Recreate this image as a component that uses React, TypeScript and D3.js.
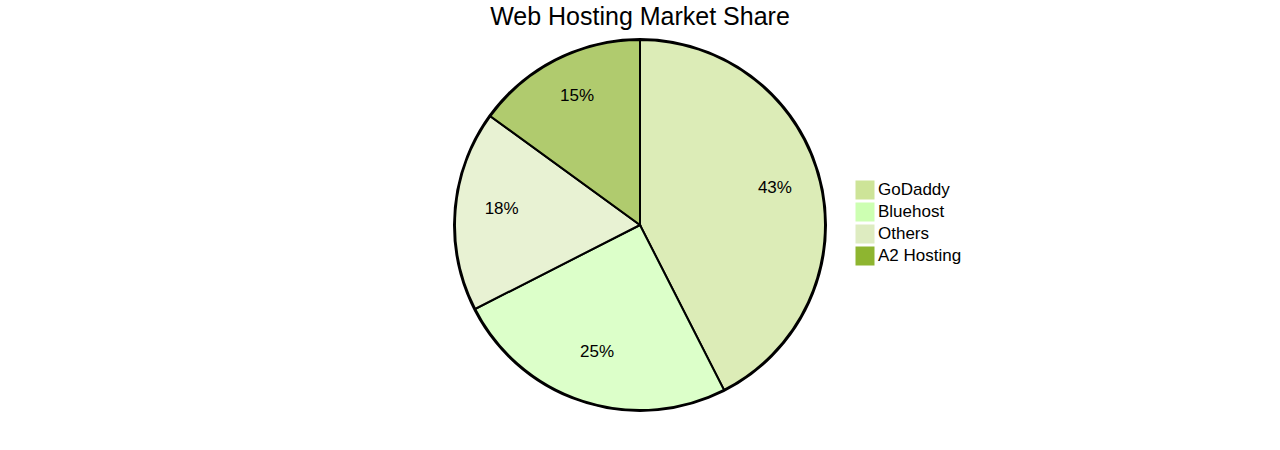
import { useEffect, useRef } from "react";
import * as d3 from "d3";

const labels = ["GoDaddy", "Bluehost", "Others", "A2 Hosting"];
const values = [42.5, 25, 17.5, 15];
const colors = ["#cde498", "#cdffb2", "#deecc1", "#8eb530"];
const title = "Web Hosting Market Share";

const PieChart = () => {
  const chartRef = useRef(null);

  useEffect(() => {
    document.body.style.margin = "0";
    if (!chartRef.current) return;
    const svg = d3.select(chartRef.current);
    svg.selectAll("*").remove();

    const width = 1280;
    const height = 450;
    const margin = 40;
    const radius = Math.min(width, height) / 2 - margin;
    const font = "'Liberation Sans', Arial, sans-serif";

    svg.attr("viewBox", [0, 0, width, height] as any);

    const data = labels.map((label, i) => ({ label, value: values[i] }));
    const total = d3.sum(values);

    const color = d3.scaleOrdinal<string>().domain(labels).range(colors);

    const g = svg
      .append("g")
      .attr("transform", `translate(${width / 2},${height / 2})`);

    const pie = d3
      .pie<any>()
      .value((d) => d.value)
      .sort(null);
    const arcs = pie(data);

    const arc = d3.arc<any>().innerRadius(0).outerRadius(radius);
    const labelArc = d3
      .arc<any>()
      .innerRadius(radius * 0.75)
      .outerRadius(radius * 0.75);

    g.append("circle")
      .attr("r", radius + 1)
      .attr("fill", "none")
      .attr("stroke", "black")
      .attr("stroke-width", 2);

    g.selectAll("path.slice")
      .data(arcs)
      .join("path")
      .attr("class", "slice")
      .attr("d", arc)
      .attr("fill", (d) => color(d.data.label))
      .attr("fill-opacity", 0.7)
      .attr("stroke", "black")
      .attr("stroke-width", 2);

    g.selectAll("text.pct")
      .data(arcs)
      .join("text")
      .attr("class", "pct")
      .attr("transform", (d) => `translate(${labelArc.centroid(d)})`)
      .attr("text-anchor", "middle")
      .attr("font-family", font)
      .attr("font-size", 17)
      .text((d) => `${((d.data.value / total) * 100).toFixed(0)}%`);

    svg
      .append("text")
      .attr("x", width / 2)
      .attr("y", 25)
      .attr("text-anchor", "middle")
      .attr("font-family", font)
      .attr("font-size", 25)
      .text(title);

    const legendSize = 18;
    const legendSpacing = 4;
    const step = legendSize + legendSpacing;
    const offset = (step * labels.length) / 2;

    const legend = g
      .selectAll("g.legend")
      .data(labels)
      .join("g")
      .attr("class", "legend")
      .attr("transform", (_, i) => `translate(${12 * legendSize},${i * step - offset})`);

    legend
      .append("rect")
      .attr("width", legendSize)
      .attr("height", legendSize)
      .attr("fill", (d) => color(d))
      .attr("stroke", (d) => color(d));

    legend
      .append("text")
      .attr("x", legendSize + legendSpacing)
      .attr("y", legendSize - legendSpacing)
      .attr("font-family", font)
      .attr("font-size", 17)
      .text((d) => d);
  }, []);

  return <svg ref={chartRef} width={1280} height={450} style={{ display: "block" }}></svg>;
};

export default function App() {
  return <PieChart />;
}
